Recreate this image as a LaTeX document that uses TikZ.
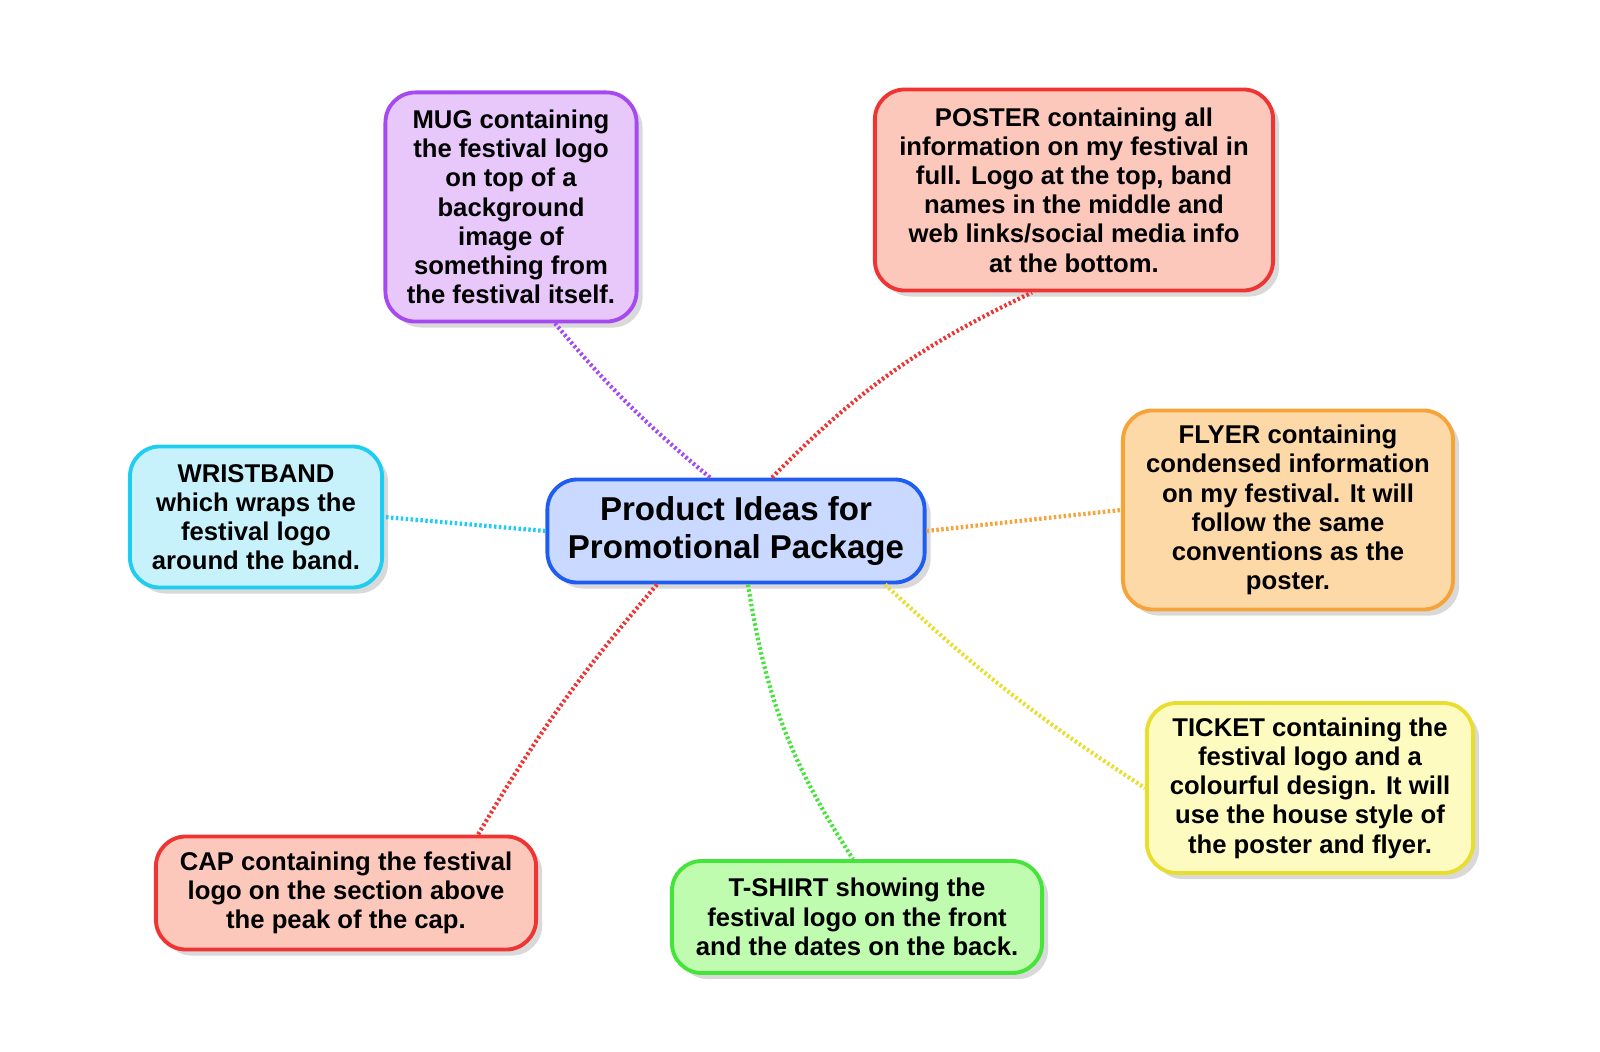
\documentclass[tikz,border=0pt]{standalone}
\usepackage{fontspec}
\setmainfont{Liberation Sans}
\usetikzlibrary{shadows}
\definecolor{cfill}{HTML}{C9D9FF}\definecolor{cdraw}{HTML}{1F5CF0}
\definecolor{mfill}{HTML}{E8C8FB}\definecolor{mdraw}{HTML}{A54AF0}
\definecolor{rfill}{HTML}{FCC8BC}\definecolor{rdraw}{HTML}{EF3434}
\definecolor{wfill}{HTML}{C8F2FB}\definecolor{wdraw}{HTML}{1ECDF0}
\definecolor{ffill}{HTML}{FDD9A8}\definecolor{fdraw}{HTML}{F6A33A}
\definecolor{tfill}{HTML}{FDFBC0}\definecolor{tdraw}{HTML}{E8DE30}
\definecolor{gfill}{HTML}{C0FCAF}\definecolor{gdraw}{HTML}{45E43B}
\begin{document}
\begin{tikzpicture}[x=0.01cm,y=-0.01cm,
  idea/.style={rounded corners=0.3cm,line width=1.1pt,align=center,
    font=\bfseries\fontsize{7.3}{8.3}\selectfont,inner sep=0pt,
    drop shadow={shadow xshift=0.06cm,shadow yshift=-0.06cm,opacity=0.3}},
  link/.style={line width=1.2pt,dash pattern=on 0.7pt off 0.7pt}]
\useasboundingbox (0,0) rectangle (1600,1052);
\node[idea,fill=cfill,draw=cdraw,minimum width=3.77cm,minimum height=1.03cm,
  font=\bfseries\fontsize{9.4}{10.8}\selectfont] (c) at (736,531) {Product Ideas for\\Promotional Package};
\node[idea,fill=mfill,draw=mdraw,minimum width=2.51cm,minimum height=2.29cm] (m) at (511,207)
  {MUG containing\\the festival logo\\on top of a\\background\\image of\\something from\\the festival itself.};
\node[idea,fill=rfill,draw=rdraw,minimum width=3.98cm,minimum height=2.01cm] (p) at (1074,190)
  {POSTER containing all\\information on my festival in\\full. Logo at the top, band\\names in the middle and\\web links/social media info\\at the bottom.};
\node[idea,fill=wfill,draw=wdraw,minimum width=2.52cm,minimum height=1.41cm] (w) at (256,517)
  {WRISTBAND\\which wraps the\\festival logo\\around the band.};
\node[idea,fill=ffill,draw=fdraw,minimum width=3.30cm,minimum height=1.99cm] (f) at (1288,510)
  {FLYER containing\\condensed information\\on my festival. It will\\follow the same\\conventions as the\\poster.};
\node[idea,fill=tfill,draw=tdraw,minimum width=3.26cm,minimum height=1.70cm] (t) at (1310,788)
  {TICKET containing the\\festival logo and a\\colourful design. It will\\use the house style of\\the poster and flyer.};
\node[idea,fill=gfill,draw=gdraw,minimum width=3.70cm,minimum height=1.12cm] (s) at (857,917)
  {T-SHIRT showing the\\festival logo on the front\\and the dates on the back.};
\node[idea,fill=rfill,draw=rdraw,minimum width=3.80cm,minimum height=1.13cm] (k) at (346,893)
  {CAP containing the festival\\logo on the section above\\the peak of the cap.};
\draw[link,draw=mdraw] ([xshift=-0.26cm]c.north) to[bend left=5] ([xshift=0.44cm]m.south);
\draw[link,draw=rdraw] ([xshift=0.36cm]c.north) to[bend left=10] ([xshift=-0.42cm]p.south);
\draw[link,draw=wdraw] (c.west) -- (w.east);
\draw[link,draw=fdraw] (c.east) -- (f.west);
\draw[link,draw=tdraw] ([xshift=1.49cm]c.south) to[bend right=5] (t.west);
\draw[link,draw=gdraw] ([xshift=0.12cm]c.south) to[bend right=12] ([xshift=-0.04cm]s.north);
\draw[link,draw=rdraw] ([xshift=-0.79cm]c.south) to[bend right=5] ([xshift=1.32cm]k.north);
\end{tikzpicture}
\end{document}
